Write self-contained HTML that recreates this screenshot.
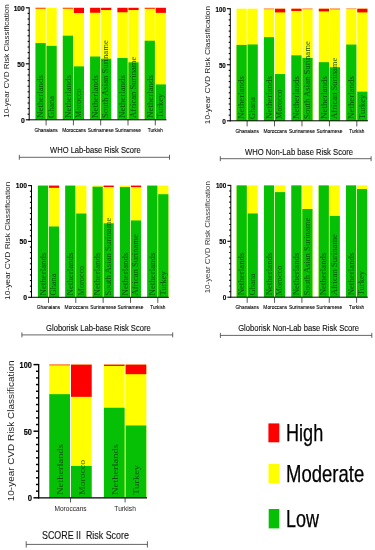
<!DOCTYPE html>
<html><head><meta charset="utf-8"><title>CVD Risk Classification</title>
<style>html,body{margin:0;padding:0;background:#fff}svg{display:block}</style></head>
<body><svg width="375" height="550" viewBox="0 0 375 550">
<defs><filter id="soft" x="0" y="0" width="100%" height="100%" filterUnits="userSpaceOnUse" color-interpolation-filters="sRGB"><feGaussianBlur stdDeviation="0.32"/></filter></defs>
<rect width="375" height="550" fill="#fff"/>
<g filter="url(#soft)">
<rect width="375" height="550" fill="#fff"/>
<rect x="35.50" y="7.80" width="10.20" height="112.00" fill="#ffff00"/>
<rect x="35.50" y="7.80" width="10.20" height="0.78" fill="#ff0000"/>
<rect x="35.50" y="43.08" width="10.20" height="76.72" fill="#05c005"/>
<text transform="translate(43.30,117.90) rotate(-90) scale(1,0.87)" font-family="Liberation Serif, serif" font-size="8.7" textLength="42.80" lengthAdjust="spacingAndGlyphs" fill="#0a460a" fill-opacity="0.92">Netherlands</text>
<rect x="46.50" y="7.80" width="10.20" height="112.00" fill="#ffff00"/>
<rect x="46.50" y="45.88" width="10.20" height="73.92" fill="#05c005"/>
<text transform="translate(53.80,117.90) rotate(-90) scale(1,0.87)" font-family="Liberation Serif, serif" font-size="8.7" textLength="21.90" lengthAdjust="spacingAndGlyphs" fill="#0a460a" fill-opacity="0.92">Ghana</text>
<rect x="62.80" y="7.80" width="10.20" height="112.00" fill="#ffff00"/>
<rect x="62.80" y="7.80" width="10.20" height="0.78" fill="#ff0000"/>
<rect x="62.80" y="35.69" width="10.20" height="84.11" fill="#05c005"/>
<text transform="translate(70.60,117.90) rotate(-90) scale(1,0.87)" font-family="Liberation Serif, serif" font-size="8.7" textLength="42.80" lengthAdjust="spacingAndGlyphs" fill="#0a460a" fill-opacity="0.92">Netherlands</text>
<rect x="73.80" y="7.80" width="10.20" height="112.00" fill="#ffff00"/>
<rect x="73.80" y="7.80" width="10.20" height="5.26" fill="#ff0000"/>
<rect x="73.80" y="66.38" width="10.20" height="53.42" fill="#05c005"/>
<text transform="translate(81.10,117.90) rotate(-90) scale(1,0.87)" font-family="Liberation Serif, serif" font-size="8.7" textLength="29.60" lengthAdjust="spacingAndGlyphs" fill="#0a460a" fill-opacity="0.92">Morocco</text>
<rect x="90.10" y="7.80" width="10.20" height="112.00" fill="#ffff00"/>
<rect x="90.10" y="7.80" width="10.20" height="4.93" fill="#ff0000"/>
<rect x="90.10" y="56.52" width="10.20" height="63.28" fill="#05c005"/>
<text transform="translate(97.90,117.90) rotate(-90) scale(1,0.87)" font-family="Liberation Serif, serif" font-size="8.7" textLength="42.80" lengthAdjust="spacingAndGlyphs" fill="#0a460a" fill-opacity="0.92">Netherlands</text>
<rect x="101.10" y="7.80" width="10.20" height="112.00" fill="#ffff00"/>
<rect x="101.10" y="7.80" width="10.20" height="2.24" fill="#ff0000"/>
<rect x="101.10" y="58.76" width="10.20" height="61.04" fill="#05c005"/>
<text transform="translate(108.40,117.90) rotate(-90) scale(1,0.87)" font-family="Liberation Serif, serif" font-size="8.7" textLength="77.70" lengthAdjust="spacingAndGlyphs" fill="#0a460a" fill-opacity="0.92">South Asian Suriname</text>
<rect x="117.40" y="7.80" width="10.20" height="112.00" fill="#ffff00"/>
<rect x="117.40" y="7.80" width="10.20" height="4.48" fill="#ff0000"/>
<rect x="117.40" y="57.98" width="10.20" height="61.82" fill="#05c005"/>
<text transform="translate(125.20,117.90) rotate(-90) scale(1,0.87)" font-family="Liberation Serif, serif" font-size="8.7" textLength="42.80" lengthAdjust="spacingAndGlyphs" fill="#0a460a" fill-opacity="0.92">Netherlands</text>
<rect x="128.40" y="7.80" width="10.20" height="112.00" fill="#ffff00"/>
<rect x="128.40" y="7.80" width="10.20" height="2.24" fill="#ff0000"/>
<rect x="128.40" y="62.34" width="10.20" height="57.46" fill="#05c005"/>
<text transform="translate(135.70,117.90) rotate(-90) scale(1,0.87)" font-family="Liberation Serif, serif" font-size="8.7" textLength="61.20" lengthAdjust="spacingAndGlyphs" fill="#0a460a" fill-opacity="0.92">African Suriname</text>
<rect x="144.70" y="7.80" width="10.20" height="112.00" fill="#ffff00"/>
<rect x="144.70" y="7.80" width="10.20" height="0.90" fill="#ff0000"/>
<rect x="144.70" y="40.73" width="10.20" height="79.07" fill="#05c005"/>
<text transform="translate(152.50,117.90) rotate(-90) scale(1,0.87)" font-family="Liberation Serif, serif" font-size="8.7" textLength="42.80" lengthAdjust="spacingAndGlyphs" fill="#0a460a" fill-opacity="0.92">Netherlands</text>
<rect x="155.70" y="7.80" width="10.20" height="112.00" fill="#ffff00"/>
<rect x="155.70" y="7.80" width="10.20" height="5.04" fill="#ff0000"/>
<rect x="155.70" y="84.41" width="10.20" height="35.39" fill="#05c005"/>
<text transform="translate(163.00,117.90) rotate(-90) scale(1,0.87)" font-family="Liberation Serif, serif" font-size="8.7" textLength="24.20" lengthAdjust="spacingAndGlyphs" fill="#0a460a" fill-opacity="0.92">Turkey</text>
<line x1="29.2" y1="7.30" x2="29.2" y2="120.30" stroke="#000" stroke-width="1.0"/>
<line x1="28.70" y1="119.8" x2="166.4" y2="119.8" stroke="#000" stroke-width="1.0"/>
<line x1="25.80" y1="119.80" x2="29.2" y2="119.80" stroke="#000" stroke-width="1.12"/>
<line x1="27.60" y1="114.20" x2="29.2" y2="114.20" stroke="#000" stroke-width="1.12"/>
<line x1="27.60" y1="108.60" x2="29.2" y2="108.60" stroke="#000" stroke-width="1.12"/>
<line x1="27.60" y1="103.00" x2="29.2" y2="103.00" stroke="#000" stroke-width="1.12"/>
<line x1="27.60" y1="97.40" x2="29.2" y2="97.40" stroke="#000" stroke-width="1.12"/>
<line x1="27.60" y1="91.80" x2="29.2" y2="91.80" stroke="#000" stroke-width="1.12"/>
<line x1="27.60" y1="86.20" x2="29.2" y2="86.20" stroke="#000" stroke-width="1.12"/>
<line x1="27.60" y1="80.60" x2="29.2" y2="80.60" stroke="#000" stroke-width="1.12"/>
<line x1="27.60" y1="75.00" x2="29.2" y2="75.00" stroke="#000" stroke-width="1.12"/>
<line x1="27.60" y1="69.40" x2="29.2" y2="69.40" stroke="#000" stroke-width="1.12"/>
<line x1="25.80" y1="63.80" x2="29.2" y2="63.80" stroke="#000" stroke-width="1.12"/>
<line x1="27.60" y1="58.20" x2="29.2" y2="58.20" stroke="#000" stroke-width="1.12"/>
<line x1="27.60" y1="52.60" x2="29.2" y2="52.60" stroke="#000" stroke-width="1.12"/>
<line x1="27.60" y1="47.00" x2="29.2" y2="47.00" stroke="#000" stroke-width="1.12"/>
<line x1="27.60" y1="41.40" x2="29.2" y2="41.40" stroke="#000" stroke-width="1.12"/>
<line x1="27.60" y1="35.80" x2="29.2" y2="35.80" stroke="#000" stroke-width="1.12"/>
<line x1="27.60" y1="30.20" x2="29.2" y2="30.20" stroke="#000" stroke-width="1.12"/>
<line x1="27.60" y1="24.60" x2="29.2" y2="24.60" stroke="#000" stroke-width="1.12"/>
<line x1="27.60" y1="19.00" x2="29.2" y2="19.00" stroke="#000" stroke-width="1.12"/>
<line x1="27.60" y1="13.40" x2="29.2" y2="13.40" stroke="#000" stroke-width="1.12"/>
<line x1="25.80" y1="7.80" x2="29.2" y2="7.80" stroke="#000" stroke-width="1.12"/>
<text x="24.70" y="10.68" text-anchor="end" font-family="Liberation Sans, sans-serif" font-weight="bold" stroke="#000" stroke-width="0.15" font-size="8.0" textLength="11" lengthAdjust="spacingAndGlyphs" fill="#000">100</text>
<text x="24.70" y="66.68" text-anchor="end" font-family="Liberation Sans, sans-serif" font-weight="bold" stroke="#000" stroke-width="0.15" font-size="8.0" textLength="7.4" lengthAdjust="spacingAndGlyphs" fill="#000">50</text>
<text x="24.70" y="122.68" text-anchor="end" font-family="Liberation Sans, sans-serif" font-weight="bold" stroke="#000" stroke-width="0.15" font-size="8.0" textLength="3.8" lengthAdjust="spacingAndGlyphs" fill="#000">0</text>
<line x1="46.10" y1="119.8" x2="46.10" y2="125.40" stroke="#111" stroke-width="0.7"/>
<text x="34.40" y="131.6" font-family="Liberation Sans, sans-serif" font-size="5.4" textLength="23.4" lengthAdjust="spacingAndGlyphs" fill="#000" stroke="#000" stroke-width="0.1">Ghanaians</text>
<line x1="73.40" y1="119.8" x2="73.40" y2="125.40" stroke="#111" stroke-width="0.7"/>
<text x="62.20" y="131.6" font-family="Liberation Sans, sans-serif" font-size="5.4" textLength="23.8" lengthAdjust="spacingAndGlyphs" fill="#000" stroke="#000" stroke-width="0.1">Moroccans</text>
<line x1="100.70" y1="119.8" x2="100.70" y2="125.40" stroke="#111" stroke-width="0.7"/>
<text x="87.70" y="131.6" font-family="Liberation Sans, sans-serif" font-size="5.4" textLength="26.0" lengthAdjust="spacingAndGlyphs" fill="#000" stroke="#000" stroke-width="0.1">Surinamese</text>
<line x1="128.00" y1="119.8" x2="128.00" y2="125.40" stroke="#111" stroke-width="0.7"/>
<text x="115.00" y="131.6" font-family="Liberation Sans, sans-serif" font-size="5.4" textLength="26.0" lengthAdjust="spacingAndGlyphs" fill="#000" stroke="#000" stroke-width="0.1">Surinamese</text>
<line x1="155.30" y1="119.8" x2="155.30" y2="125.40" stroke="#111" stroke-width="0.7"/>
<text x="147.70" y="131.6" font-family="Liberation Sans, sans-serif" font-size="5.4" textLength="15.2" lengthAdjust="spacingAndGlyphs" fill="#000" stroke="#000" stroke-width="0.1">Turkish</text>
<text transform="translate(8.7,117.8) rotate(-90)" font-family="Liberation Sans, sans-serif" font-size="7.6" textLength="113.4" lengthAdjust="spacingAndGlyphs" fill="#222">10-year CVD Risk Classification</text>
<text x="50.1" y="153.0" font-family="Liberation Sans, sans-serif" font-size="8.9" textLength="90.6" lengthAdjust="spacingAndGlyphs" fill="#111" stroke="#111" stroke-width="0.12" xml:space="preserve" style="white-space:pre">WHO Lab-base Risk Score</text>
<path d="M19.3 154.8 V159.8 M19.3 157.3 H169.5 M169.5 154.8 V159.8" stroke="#333" stroke-width="0.75" fill="none"/>
<rect x="236.50" y="8.70" width="10.20" height="112.10" fill="#ffff00"/>
<rect x="236.50" y="44.91" width="10.20" height="75.89" fill="#05c005"/>
<text transform="translate(244.30,118.90) rotate(-90) scale(1,0.87)" font-family="Liberation Serif, serif" font-size="8.7" textLength="42.80" lengthAdjust="spacingAndGlyphs" fill="#0a460a" fill-opacity="0.92">Netherlands</text>
<rect x="247.55" y="8.70" width="10.20" height="112.10" fill="#ffff00"/>
<rect x="247.55" y="44.46" width="10.20" height="76.34" fill="#05c005"/>
<text transform="translate(254.85,118.90) rotate(-90) scale(1,0.87)" font-family="Liberation Serif, serif" font-size="8.7" textLength="21.90" lengthAdjust="spacingAndGlyphs" fill="#0a460a" fill-opacity="0.92">Ghana</text>
<rect x="263.90" y="8.70" width="10.20" height="112.10" fill="#ffff00"/>
<rect x="263.90" y="8.70" width="10.20" height="0.45" fill="#ff0000"/>
<rect x="263.90" y="37.17" width="10.20" height="83.63" fill="#05c005"/>
<text transform="translate(271.70,118.90) rotate(-90) scale(1,0.87)" font-family="Liberation Serif, serif" font-size="8.7" textLength="42.80" lengthAdjust="spacingAndGlyphs" fill="#0a460a" fill-opacity="0.92">Netherlands</text>
<rect x="274.95" y="8.70" width="10.20" height="112.10" fill="#ffff00"/>
<rect x="274.95" y="8.70" width="10.20" height="3.70" fill="#ff0000"/>
<rect x="274.95" y="74.05" width="10.20" height="46.75" fill="#05c005"/>
<text transform="translate(282.25,118.90) rotate(-90) scale(1,0.87)" font-family="Liberation Serif, serif" font-size="8.7" textLength="29.60" lengthAdjust="spacingAndGlyphs" fill="#0a460a" fill-opacity="0.92">Morocco</text>
<rect x="291.35" y="8.70" width="10.20" height="112.10" fill="#ffff00"/>
<rect x="291.35" y="8.70" width="10.20" height="2.24" fill="#ff0000"/>
<rect x="291.35" y="55.33" width="10.20" height="65.47" fill="#05c005"/>
<text transform="translate(299.15,118.90) rotate(-90) scale(1,0.87)" font-family="Liberation Serif, serif" font-size="8.7" textLength="42.80" lengthAdjust="spacingAndGlyphs" fill="#0a460a" fill-opacity="0.92">Netherlands</text>
<rect x="302.40" y="8.70" width="10.20" height="112.10" fill="#ffff00"/>
<rect x="302.40" y="8.70" width="10.20" height="0.45" fill="#ff0000"/>
<rect x="302.40" y="57.91" width="10.20" height="62.89" fill="#05c005"/>
<text transform="translate(309.70,118.90) rotate(-90) scale(1,0.87)" font-family="Liberation Serif, serif" font-size="8.7" textLength="77.70" lengthAdjust="spacingAndGlyphs" fill="#0a460a" fill-opacity="0.92">South Asian Suriname</text>
<rect x="318.80" y="8.70" width="10.20" height="112.10" fill="#ffff00"/>
<rect x="318.80" y="8.70" width="10.20" height="2.69" fill="#ff0000"/>
<rect x="318.80" y="62.17" width="10.20" height="58.63" fill="#05c005"/>
<text transform="translate(326.60,118.90) rotate(-90) scale(1,0.87)" font-family="Liberation Serif, serif" font-size="8.7" textLength="42.80" lengthAdjust="spacingAndGlyphs" fill="#0a460a" fill-opacity="0.92">Netherlands</text>
<rect x="329.85" y="8.70" width="10.20" height="112.10" fill="#ffff00"/>
<rect x="329.85" y="8.70" width="10.20" height="0.56" fill="#ff0000"/>
<rect x="329.85" y="67.22" width="10.20" height="53.58" fill="#05c005"/>
<text transform="translate(337.15,118.90) rotate(-90) scale(1,0.87)" font-family="Liberation Serif, serif" font-size="8.7" textLength="61.20" lengthAdjust="spacingAndGlyphs" fill="#0a460a" fill-opacity="0.92">African Suriname</text>
<rect x="346.20" y="8.70" width="10.20" height="112.10" fill="#ffff00"/>
<rect x="346.20" y="8.70" width="10.20" height="0.34" fill="#ff0000"/>
<rect x="346.20" y="44.57" width="10.20" height="76.23" fill="#05c005"/>
<text transform="translate(354.00,118.90) rotate(-90) scale(1,0.87)" font-family="Liberation Serif, serif" font-size="8.7" textLength="42.80" lengthAdjust="spacingAndGlyphs" fill="#0a460a" fill-opacity="0.92">Netherlands</text>
<rect x="357.25" y="8.70" width="10.20" height="112.10" fill="#ffff00"/>
<rect x="357.25" y="8.70" width="10.20" height="3.70" fill="#ff0000"/>
<rect x="357.25" y="91.65" width="10.20" height="29.15" fill="#05c005"/>
<text transform="translate(364.55,118.90) rotate(-90) scale(1,0.87)" font-family="Liberation Serif, serif" font-size="8.7" textLength="24.20" lengthAdjust="spacingAndGlyphs" fill="#0a460a" fill-opacity="0.92">Turkey</text>
<line x1="230.3" y1="8.20" x2="230.3" y2="121.30" stroke="#000" stroke-width="1.0"/>
<line x1="229.80" y1="120.8" x2="367.9" y2="120.8" stroke="#000" stroke-width="1.0"/>
<line x1="226.90" y1="120.80" x2="230.3" y2="120.80" stroke="#000" stroke-width="1.12"/>
<line x1="228.70" y1="115.19" x2="230.3" y2="115.19" stroke="#000" stroke-width="1.12"/>
<line x1="228.70" y1="109.59" x2="230.3" y2="109.59" stroke="#000" stroke-width="1.12"/>
<line x1="228.70" y1="103.98" x2="230.3" y2="103.98" stroke="#000" stroke-width="1.12"/>
<line x1="228.70" y1="98.38" x2="230.3" y2="98.38" stroke="#000" stroke-width="1.12"/>
<line x1="228.70" y1="92.78" x2="230.3" y2="92.78" stroke="#000" stroke-width="1.12"/>
<line x1="228.70" y1="87.17" x2="230.3" y2="87.17" stroke="#000" stroke-width="1.12"/>
<line x1="228.70" y1="81.56" x2="230.3" y2="81.56" stroke="#000" stroke-width="1.12"/>
<line x1="228.70" y1="75.96" x2="230.3" y2="75.96" stroke="#000" stroke-width="1.12"/>
<line x1="228.70" y1="70.35" x2="230.3" y2="70.35" stroke="#000" stroke-width="1.12"/>
<line x1="226.90" y1="64.75" x2="230.3" y2="64.75" stroke="#000" stroke-width="1.12"/>
<line x1="228.70" y1="59.14" x2="230.3" y2="59.14" stroke="#000" stroke-width="1.12"/>
<line x1="228.70" y1="53.54" x2="230.3" y2="53.54" stroke="#000" stroke-width="1.12"/>
<line x1="228.70" y1="47.94" x2="230.3" y2="47.94" stroke="#000" stroke-width="1.12"/>
<line x1="228.70" y1="42.33" x2="230.3" y2="42.33" stroke="#000" stroke-width="1.12"/>
<line x1="228.70" y1="36.72" x2="230.3" y2="36.72" stroke="#000" stroke-width="1.12"/>
<line x1="228.70" y1="31.12" x2="230.3" y2="31.12" stroke="#000" stroke-width="1.12"/>
<line x1="228.70" y1="25.52" x2="230.3" y2="25.52" stroke="#000" stroke-width="1.12"/>
<line x1="228.70" y1="19.91" x2="230.3" y2="19.91" stroke="#000" stroke-width="1.12"/>
<line x1="228.70" y1="14.30" x2="230.3" y2="14.30" stroke="#000" stroke-width="1.12"/>
<line x1="226.90" y1="8.70" x2="230.3" y2="8.70" stroke="#000" stroke-width="1.12"/>
<text x="225.80" y="11.58" text-anchor="end" font-family="Liberation Sans, sans-serif" font-weight="bold" stroke="#000" stroke-width="0.15" font-size="8.0" textLength="10.2" lengthAdjust="spacingAndGlyphs" fill="#000">100</text>
<text x="225.80" y="67.63" text-anchor="end" font-family="Liberation Sans, sans-serif" font-weight="bold" stroke="#000" stroke-width="0.15" font-size="8.0" textLength="6.9" lengthAdjust="spacingAndGlyphs" fill="#000">50</text>
<text x="225.80" y="123.68" text-anchor="end" font-family="Liberation Sans, sans-serif" font-weight="bold" stroke="#000" stroke-width="0.15" font-size="8.0" textLength="3.6" lengthAdjust="spacingAndGlyphs" fill="#000">0</text>
<line x1="247.12" y1="120.8" x2="247.12" y2="126.40" stroke="#111" stroke-width="0.7"/>
<text x="235.43" y="132.6" font-family="Liberation Sans, sans-serif" font-size="5.4" textLength="23.4" lengthAdjust="spacingAndGlyphs" fill="#000" stroke="#000" stroke-width="0.1">Ghanaians</text>
<line x1="274.52" y1="120.8" x2="274.52" y2="126.40" stroke="#111" stroke-width="0.7"/>
<text x="263.43" y="132.6" font-family="Liberation Sans, sans-serif" font-size="5.4" textLength="23.8" lengthAdjust="spacingAndGlyphs" fill="#000" stroke="#000" stroke-width="0.1">Moroccans</text>
<line x1="301.98" y1="120.8" x2="301.98" y2="126.40" stroke="#111" stroke-width="0.7"/>
<text x="288.98" y="132.6" font-family="Liberation Sans, sans-serif" font-size="5.4" textLength="26.0" lengthAdjust="spacingAndGlyphs" fill="#000" stroke="#000" stroke-width="0.1">Surinamese</text>
<line x1="329.43" y1="120.8" x2="329.43" y2="126.40" stroke="#111" stroke-width="0.7"/>
<text x="316.43" y="132.6" font-family="Liberation Sans, sans-serif" font-size="5.4" textLength="26.0" lengthAdjust="spacingAndGlyphs" fill="#000" stroke="#000" stroke-width="0.1">Surinamese</text>
<line x1="356.82" y1="120.8" x2="356.82" y2="126.40" stroke="#111" stroke-width="0.7"/>
<text x="349.22" y="132.6" font-family="Liberation Sans, sans-serif" font-size="5.4" textLength="15.2" lengthAdjust="spacingAndGlyphs" fill="#000" stroke="#000" stroke-width="0.1">Turkish</text>
<text transform="translate(209.7,124.2) rotate(-90)" font-family="Liberation Sans, sans-serif" font-size="7.9" textLength="118.3" lengthAdjust="spacingAndGlyphs" fill="#222">10-year CVD Risk Classification</text>
<text x="244.9" y="154.8" font-family="Liberation Sans, sans-serif" font-size="8.9" textLength="108.2" lengthAdjust="spacingAndGlyphs" fill="#111" stroke="#111" stroke-width="0.12" xml:space="preserve" style="white-space:pre">WHO Non-Lab base Risk Score</text>
<path d="M220.3 156.2 V161.2 M220.3 158.7 H371.1 M371.1 156.2 V161.2" stroke="#333" stroke-width="0.75" fill="none"/>
<rect x="37.90" y="185.60" width="10.20" height="111.70" fill="#ffff00"/>
<rect x="37.90" y="185.60" width="10.20" height="111.70" fill="#05c005"/>
<text transform="translate(45.70,295.40) rotate(-90) scale(1,0.87)" font-family="Liberation Serif, serif" font-size="8.7" textLength="42.80" lengthAdjust="spacingAndGlyphs" fill="#0a460a" fill-opacity="0.92">Netherlands</text>
<rect x="48.90" y="185.60" width="10.20" height="111.70" fill="#ffff00"/>
<rect x="48.90" y="185.60" width="10.20" height="2.23" fill="#ff0000"/>
<rect x="48.90" y="226.48" width="10.20" height="70.82" fill="#05c005"/>
<text transform="translate(56.20,295.40) rotate(-90) scale(1,0.87)" font-family="Liberation Serif, serif" font-size="8.7" textLength="21.90" lengthAdjust="spacingAndGlyphs" fill="#0a460a" fill-opacity="0.92">Ghana</text>
<rect x="65.20" y="185.60" width="10.20" height="111.70" fill="#ffff00"/>
<rect x="65.20" y="185.60" width="10.20" height="111.70" fill="#05c005"/>
<text transform="translate(73.00,295.40) rotate(-90) scale(1,0.87)" font-family="Liberation Serif, serif" font-size="8.7" textLength="42.80" lengthAdjust="spacingAndGlyphs" fill="#0a460a" fill-opacity="0.92">Netherlands</text>
<rect x="76.20" y="185.60" width="10.20" height="111.70" fill="#ffff00"/>
<rect x="76.20" y="213.52" width="10.20" height="83.78" fill="#05c005"/>
<text transform="translate(83.50,295.40) rotate(-90) scale(1,0.87)" font-family="Liberation Serif, serif" font-size="8.7" textLength="29.60" lengthAdjust="spacingAndGlyphs" fill="#0a460a" fill-opacity="0.92">Morocco</text>
<rect x="92.55" y="185.60" width="10.20" height="111.70" fill="#ffff00"/>
<rect x="92.55" y="186.72" width="10.20" height="110.58" fill="#05c005"/>
<text transform="translate(100.35,295.40) rotate(-90) scale(1,0.87)" font-family="Liberation Serif, serif" font-size="8.7" textLength="42.80" lengthAdjust="spacingAndGlyphs" fill="#0a460a" fill-opacity="0.92">Netherlands</text>
<rect x="103.55" y="185.60" width="10.20" height="111.70" fill="#ffff00"/>
<rect x="103.55" y="185.60" width="10.20" height="1.45" fill="#ff0000"/>
<rect x="103.55" y="223.24" width="10.20" height="74.06" fill="#05c005"/>
<text transform="translate(110.85,295.40) rotate(-90) scale(1,0.87)" font-family="Liberation Serif, serif" font-size="8.7" textLength="77.70" lengthAdjust="spacingAndGlyphs" fill="#0a460a" fill-opacity="0.92">South Asian Suriname</text>
<rect x="119.90" y="185.60" width="10.20" height="111.70" fill="#ffff00"/>
<rect x="119.90" y="187.05" width="10.20" height="110.25" fill="#05c005"/>
<text transform="translate(127.70,295.40) rotate(-90) scale(1,0.87)" font-family="Liberation Serif, serif" font-size="8.7" textLength="42.80" lengthAdjust="spacingAndGlyphs" fill="#0a460a" fill-opacity="0.92">Netherlands</text>
<rect x="130.90" y="185.60" width="10.20" height="111.70" fill="#ffff00"/>
<rect x="130.90" y="185.60" width="10.20" height="1.56" fill="#ff0000"/>
<rect x="130.90" y="220.45" width="10.20" height="76.85" fill="#05c005"/>
<text transform="translate(138.20,295.40) rotate(-90) scale(1,0.87)" font-family="Liberation Serif, serif" font-size="8.7" textLength="61.20" lengthAdjust="spacingAndGlyphs" fill="#0a460a" fill-opacity="0.92">African Suriname</text>
<rect x="147.20" y="185.60" width="10.20" height="111.70" fill="#ffff00"/>
<rect x="147.20" y="185.60" width="10.20" height="111.70" fill="#05c005"/>
<text transform="translate(155.00,295.40) rotate(-90) scale(1,0.87)" font-family="Liberation Serif, serif" font-size="8.7" textLength="42.80" lengthAdjust="spacingAndGlyphs" fill="#0a460a" fill-opacity="0.92">Netherlands</text>
<rect x="158.20" y="185.60" width="10.20" height="111.70" fill="#ffff00"/>
<rect x="158.20" y="194.20" width="10.20" height="103.10" fill="#05c005"/>
<text transform="translate(165.50,295.40) rotate(-90) scale(1,0.87)" font-family="Liberation Serif, serif" font-size="8.7" textLength="24.20" lengthAdjust="spacingAndGlyphs" fill="#0a460a" fill-opacity="0.92">Turkey</text>
<line x1="31.5" y1="185.10" x2="31.5" y2="297.80" stroke="#000" stroke-width="1.0"/>
<line x1="31.00" y1="297.3" x2="168.8" y2="297.3" stroke="#000" stroke-width="1.0"/>
<line x1="28.10" y1="297.30" x2="31.5" y2="297.30" stroke="#000" stroke-width="1.12"/>
<line x1="29.90" y1="291.72" x2="31.5" y2="291.72" stroke="#000" stroke-width="1.12"/>
<line x1="29.90" y1="286.13" x2="31.5" y2="286.13" stroke="#000" stroke-width="1.12"/>
<line x1="29.90" y1="280.55" x2="31.5" y2="280.55" stroke="#000" stroke-width="1.12"/>
<line x1="29.90" y1="274.96" x2="31.5" y2="274.96" stroke="#000" stroke-width="1.12"/>
<line x1="29.90" y1="269.38" x2="31.5" y2="269.38" stroke="#000" stroke-width="1.12"/>
<line x1="29.90" y1="263.79" x2="31.5" y2="263.79" stroke="#000" stroke-width="1.12"/>
<line x1="29.90" y1="258.20" x2="31.5" y2="258.20" stroke="#000" stroke-width="1.12"/>
<line x1="29.90" y1="252.62" x2="31.5" y2="252.62" stroke="#000" stroke-width="1.12"/>
<line x1="29.90" y1="247.03" x2="31.5" y2="247.03" stroke="#000" stroke-width="1.12"/>
<line x1="28.10" y1="241.45" x2="31.5" y2="241.45" stroke="#000" stroke-width="1.12"/>
<line x1="29.90" y1="235.87" x2="31.5" y2="235.87" stroke="#000" stroke-width="1.12"/>
<line x1="29.90" y1="230.28" x2="31.5" y2="230.28" stroke="#000" stroke-width="1.12"/>
<line x1="29.90" y1="224.69" x2="31.5" y2="224.69" stroke="#000" stroke-width="1.12"/>
<line x1="29.90" y1="219.11" x2="31.5" y2="219.11" stroke="#000" stroke-width="1.12"/>
<line x1="29.90" y1="213.52" x2="31.5" y2="213.52" stroke="#000" stroke-width="1.12"/>
<line x1="29.90" y1="207.94" x2="31.5" y2="207.94" stroke="#000" stroke-width="1.12"/>
<line x1="29.90" y1="202.35" x2="31.5" y2="202.35" stroke="#000" stroke-width="1.12"/>
<line x1="29.90" y1="196.77" x2="31.5" y2="196.77" stroke="#000" stroke-width="1.12"/>
<line x1="29.90" y1="191.19" x2="31.5" y2="191.19" stroke="#000" stroke-width="1.12"/>
<line x1="28.10" y1="185.60" x2="31.5" y2="185.60" stroke="#000" stroke-width="1.12"/>
<text x="27.00" y="188.48" text-anchor="end" font-family="Liberation Sans, sans-serif" font-weight="bold" stroke="#000" stroke-width="0.15" font-size="8.0" textLength="11.2" lengthAdjust="spacingAndGlyphs" fill="#000">100</text>
<text x="27.00" y="244.33" text-anchor="end" font-family="Liberation Sans, sans-serif" font-weight="bold" stroke="#000" stroke-width="0.15" font-size="8.0" textLength="7.5" lengthAdjust="spacingAndGlyphs" fill="#000">50</text>
<text x="27.00" y="300.18" text-anchor="end" font-family="Liberation Sans, sans-serif" font-weight="bold" stroke="#000" stroke-width="0.15" font-size="8.0" textLength="3.8" lengthAdjust="spacingAndGlyphs" fill="#000">0</text>
<line x1="48.50" y1="297.3" x2="48.50" y2="302.90" stroke="#111" stroke-width="0.7"/>
<text x="36.80" y="308.8" font-family="Liberation Sans, sans-serif" font-size="5.4" textLength="23.4" lengthAdjust="spacingAndGlyphs" fill="#000" stroke="#000" stroke-width="0.1">Ghanaians</text>
<line x1="75.80" y1="297.3" x2="75.80" y2="302.90" stroke="#111" stroke-width="0.7"/>
<text x="64.60" y="308.8" font-family="Liberation Sans, sans-serif" font-size="5.4" textLength="23.8" lengthAdjust="spacingAndGlyphs" fill="#000" stroke="#000" stroke-width="0.1">Moroccans</text>
<line x1="103.15" y1="297.3" x2="103.15" y2="302.90" stroke="#111" stroke-width="0.7"/>
<text x="90.15" y="308.8" font-family="Liberation Sans, sans-serif" font-size="5.4" textLength="26.0" lengthAdjust="spacingAndGlyphs" fill="#000" stroke="#000" stroke-width="0.1">Surinamese</text>
<line x1="130.50" y1="297.3" x2="130.50" y2="302.90" stroke="#111" stroke-width="0.7"/>
<text x="117.50" y="308.8" font-family="Liberation Sans, sans-serif" font-size="5.4" textLength="26.0" lengthAdjust="spacingAndGlyphs" fill="#000" stroke="#000" stroke-width="0.1">Surinamese</text>
<line x1="157.80" y1="297.3" x2="157.80" y2="302.90" stroke="#111" stroke-width="0.7"/>
<text x="150.20" y="308.8" font-family="Liberation Sans, sans-serif" font-size="5.4" textLength="15.2" lengthAdjust="spacingAndGlyphs" fill="#000" stroke="#000" stroke-width="0.1">Turkish</text>
<text transform="translate(10.0,299.9) rotate(-90)" font-family="Liberation Sans, sans-serif" font-size="7.9" textLength="118.3" lengthAdjust="spacingAndGlyphs" fill="#222">10-year CVD Risk Classification</text>
<text x="46.1" y="330.8" font-family="Liberation Sans, sans-serif" font-size="8.9" textLength="104.6" lengthAdjust="spacingAndGlyphs" fill="#111" stroke="#111" stroke-width="0.12" xml:space="preserve" style="white-space:pre">Globorisk Lab-base Risk Score</text>
<path d="M21.9 332.4 V337.4 M21.9 334.9 H172.7 M172.7 332.4 V337.4" stroke="#333" stroke-width="0.75" fill="none"/>
<rect x="236.60" y="185.40" width="10.20" height="111.80" fill="#ffff00"/>
<rect x="236.60" y="185.40" width="10.20" height="111.80" fill="#05c005"/>
<text transform="translate(244.40,295.30) rotate(-90) scale(1,0.87)" font-family="Liberation Serif, serif" font-size="8.7" textLength="42.80" lengthAdjust="spacingAndGlyphs" fill="#0a460a" fill-opacity="0.92">Netherlands</text>
<rect x="247.60" y="185.40" width="10.20" height="111.80" fill="#ffff00"/>
<rect x="247.60" y="213.46" width="10.20" height="83.74" fill="#05c005"/>
<text transform="translate(254.90,295.30) rotate(-90) scale(1,0.87)" font-family="Liberation Serif, serif" font-size="8.7" textLength="21.90" lengthAdjust="spacingAndGlyphs" fill="#0a460a" fill-opacity="0.92">Ghana</text>
<rect x="263.95" y="185.40" width="10.20" height="111.80" fill="#ffff00"/>
<rect x="263.95" y="185.40" width="10.20" height="111.80" fill="#05c005"/>
<text transform="translate(271.75,295.30) rotate(-90) scale(1,0.87)" font-family="Liberation Serif, serif" font-size="8.7" textLength="42.80" lengthAdjust="spacingAndGlyphs" fill="#0a460a" fill-opacity="0.92">Netherlands</text>
<rect x="274.95" y="185.40" width="10.20" height="111.80" fill="#ffff00"/>
<rect x="274.95" y="192.11" width="10.20" height="105.09" fill="#05c005"/>
<text transform="translate(282.25,295.30) rotate(-90) scale(1,0.87)" font-family="Liberation Serif, serif" font-size="8.7" textLength="29.60" lengthAdjust="spacingAndGlyphs" fill="#0a460a" fill-opacity="0.92">Morocco</text>
<rect x="291.30" y="185.40" width="10.20" height="111.80" fill="#ffff00"/>
<rect x="291.30" y="185.40" width="10.20" height="111.80" fill="#05c005"/>
<text transform="translate(299.10,295.30) rotate(-90) scale(1,0.87)" font-family="Liberation Serif, serif" font-size="8.7" textLength="42.80" lengthAdjust="spacingAndGlyphs" fill="#0a460a" fill-opacity="0.92">Netherlands</text>
<rect x="302.30" y="185.40" width="10.20" height="111.80" fill="#ffff00"/>
<rect x="302.30" y="208.99" width="10.20" height="88.21" fill="#05c005"/>
<text transform="translate(309.60,295.30) rotate(-90) scale(1,0.87)" font-family="Liberation Serif, serif" font-size="8.7" textLength="77.70" lengthAdjust="spacingAndGlyphs" fill="#0a460a" fill-opacity="0.92">South Asian Suriname</text>
<rect x="318.65" y="185.40" width="10.20" height="111.80" fill="#ffff00"/>
<rect x="318.65" y="185.40" width="10.20" height="111.80" fill="#05c005"/>
<text transform="translate(326.45,295.30) rotate(-90) scale(1,0.87)" font-family="Liberation Serif, serif" font-size="8.7" textLength="42.80" lengthAdjust="spacingAndGlyphs" fill="#0a460a" fill-opacity="0.92">Netherlands</text>
<rect x="329.65" y="185.40" width="10.20" height="111.80" fill="#ffff00"/>
<rect x="329.65" y="215.92" width="10.20" height="81.28" fill="#05c005"/>
<text transform="translate(336.95,295.30) rotate(-90) scale(1,0.87)" font-family="Liberation Serif, serif" font-size="8.7" textLength="61.20" lengthAdjust="spacingAndGlyphs" fill="#0a460a" fill-opacity="0.92">African Suriname</text>
<rect x="346.00" y="185.40" width="10.20" height="111.80" fill="#ffff00"/>
<rect x="346.00" y="185.40" width="10.20" height="111.80" fill="#05c005"/>
<text transform="translate(353.80,295.30) rotate(-90) scale(1,0.87)" font-family="Liberation Serif, serif" font-size="8.7" textLength="42.80" lengthAdjust="spacingAndGlyphs" fill="#0a460a" fill-opacity="0.92">Netherlands</text>
<rect x="357.00" y="185.40" width="10.20" height="111.80" fill="#ffff00"/>
<rect x="357.00" y="188.98" width="10.20" height="108.22" fill="#05c005"/>
<text transform="translate(364.30,295.30) rotate(-90) scale(1,0.87)" font-family="Liberation Serif, serif" font-size="8.7" textLength="24.20" lengthAdjust="spacingAndGlyphs" fill="#0a460a" fill-opacity="0.92">Turkey</text>
<line x1="230.8" y1="184.90" x2="230.8" y2="297.70" stroke="#000" stroke-width="1.0"/>
<line x1="230.30" y1="297.2" x2="367.8" y2="297.2" stroke="#000" stroke-width="1.0"/>
<line x1="227.40" y1="297.20" x2="230.8" y2="297.20" stroke="#000" stroke-width="1.12"/>
<line x1="229.20" y1="291.61" x2="230.8" y2="291.61" stroke="#000" stroke-width="1.12"/>
<line x1="229.20" y1="286.02" x2="230.8" y2="286.02" stroke="#000" stroke-width="1.12"/>
<line x1="229.20" y1="280.43" x2="230.8" y2="280.43" stroke="#000" stroke-width="1.12"/>
<line x1="229.20" y1="274.84" x2="230.8" y2="274.84" stroke="#000" stroke-width="1.12"/>
<line x1="229.20" y1="269.25" x2="230.8" y2="269.25" stroke="#000" stroke-width="1.12"/>
<line x1="229.20" y1="263.66" x2="230.8" y2="263.66" stroke="#000" stroke-width="1.12"/>
<line x1="229.20" y1="258.07" x2="230.8" y2="258.07" stroke="#000" stroke-width="1.12"/>
<line x1="229.20" y1="252.48" x2="230.8" y2="252.48" stroke="#000" stroke-width="1.12"/>
<line x1="229.20" y1="246.89" x2="230.8" y2="246.89" stroke="#000" stroke-width="1.12"/>
<line x1="227.40" y1="241.30" x2="230.8" y2="241.30" stroke="#000" stroke-width="1.12"/>
<line x1="229.20" y1="235.71" x2="230.8" y2="235.71" stroke="#000" stroke-width="1.12"/>
<line x1="229.20" y1="230.12" x2="230.8" y2="230.12" stroke="#000" stroke-width="1.12"/>
<line x1="229.20" y1="224.53" x2="230.8" y2="224.53" stroke="#000" stroke-width="1.12"/>
<line x1="229.20" y1="218.94" x2="230.8" y2="218.94" stroke="#000" stroke-width="1.12"/>
<line x1="229.20" y1="213.35" x2="230.8" y2="213.35" stroke="#000" stroke-width="1.12"/>
<line x1="229.20" y1="207.76" x2="230.8" y2="207.76" stroke="#000" stroke-width="1.12"/>
<line x1="229.20" y1="202.17" x2="230.8" y2="202.17" stroke="#000" stroke-width="1.12"/>
<line x1="229.20" y1="196.58" x2="230.8" y2="196.58" stroke="#000" stroke-width="1.12"/>
<line x1="229.20" y1="190.99" x2="230.8" y2="190.99" stroke="#000" stroke-width="1.12"/>
<line x1="227.40" y1="185.40" x2="230.8" y2="185.40" stroke="#000" stroke-width="1.12"/>
<text x="226.30" y="188.28" text-anchor="end" font-family="Liberation Sans, sans-serif" font-weight="bold" stroke="#000" stroke-width="0.15" font-size="8.0" textLength="10.4" lengthAdjust="spacingAndGlyphs" fill="#000">100</text>
<text x="226.30" y="244.18" text-anchor="end" font-family="Liberation Sans, sans-serif" font-weight="bold" stroke="#000" stroke-width="0.15" font-size="8.0" textLength="7" lengthAdjust="spacingAndGlyphs" fill="#000">50</text>
<text x="226.30" y="300.08" text-anchor="end" font-family="Liberation Sans, sans-serif" font-weight="bold" stroke="#000" stroke-width="0.15" font-size="8.0" textLength="3.6" lengthAdjust="spacingAndGlyphs" fill="#000">0</text>
<line x1="247.20" y1="297.2" x2="247.20" y2="302.80" stroke="#111" stroke-width="0.7"/>
<text x="235.50" y="308.8" font-family="Liberation Sans, sans-serif" font-size="5.4" textLength="23.4" lengthAdjust="spacingAndGlyphs" fill="#000" stroke="#000" stroke-width="0.1">Ghanaians</text>
<line x1="274.55" y1="297.2" x2="274.55" y2="302.80" stroke="#111" stroke-width="0.7"/>
<text x="263.35" y="308.8" font-family="Liberation Sans, sans-serif" font-size="5.4" textLength="23.8" lengthAdjust="spacingAndGlyphs" fill="#000" stroke="#000" stroke-width="0.1">Moroccans</text>
<line x1="301.90" y1="297.2" x2="301.90" y2="302.80" stroke="#111" stroke-width="0.7"/>
<text x="288.90" y="308.8" font-family="Liberation Sans, sans-serif" font-size="5.4" textLength="26.0" lengthAdjust="spacingAndGlyphs" fill="#000" stroke="#000" stroke-width="0.1">Surinamese</text>
<line x1="329.25" y1="297.2" x2="329.25" y2="302.80" stroke="#111" stroke-width="0.7"/>
<text x="316.25" y="308.8" font-family="Liberation Sans, sans-serif" font-size="5.4" textLength="26.0" lengthAdjust="spacingAndGlyphs" fill="#000" stroke="#000" stroke-width="0.1">Surinamese</text>
<line x1="356.60" y1="297.2" x2="356.60" y2="302.80" stroke="#111" stroke-width="0.7"/>
<text x="349.00" y="308.8" font-family="Liberation Sans, sans-serif" font-size="5.4" textLength="15.2" lengthAdjust="spacingAndGlyphs" fill="#000" stroke="#000" stroke-width="0.1">Turkish</text>
<text transform="translate(210.3,293.3) rotate(-90)" font-family="Liberation Sans, sans-serif" font-size="7.6" textLength="112.2" lengthAdjust="spacingAndGlyphs" fill="#3a3a3a">10-year CVD Risk Classification</text>
<text x="238.2" y="330.9" font-family="Liberation Sans, sans-serif" font-size="8.9" textLength="120.9" lengthAdjust="spacingAndGlyphs" fill="#111" stroke="#111" stroke-width="0.12" xml:space="preserve" style="white-space:pre">Globorisk Non-Lab base Risk Score</text>
<path d="M220.4 332.9 V337.9 M220.4 335.4 H371.8 M371.8 332.9 V337.9" stroke="#333" stroke-width="0.75" fill="none"/>
<rect x="49.30" y="364.60" width="20.70" height="133.20" fill="#ffff00"/>
<rect x="49.30" y="364.60" width="20.70" height="0.67" fill="#ff0000"/>
<rect x="49.30" y="394.17" width="20.70" height="103.63" fill="#05c005"/>
<text transform="translate(63.40,495.00) rotate(-90) scale(1,0.9)" font-family="Liberation Serif, serif" font-size="10.3" textLength="50.72" lengthAdjust="spacingAndGlyphs" fill="#0a460a" fill-opacity="0.92">Netherlands</text>
<rect x="71.00" y="364.60" width="20.70" height="133.20" fill="#ffff00"/>
<rect x="71.00" y="364.60" width="20.70" height="32.23" fill="#ff0000"/>
<rect x="71.00" y="465.97" width="20.70" height="31.83" fill="#05c005"/>
<text transform="translate(84.50,495.00) rotate(-90) scale(1,0.9)" font-family="Liberation Serif, serif" font-size="10.3" textLength="35.22" lengthAdjust="spacingAndGlyphs" fill="#0a460a" fill-opacity="0.92">Morocco</text>
<rect x="103.90" y="364.60" width="20.70" height="133.20" fill="#ffff00"/>
<rect x="103.90" y="364.60" width="20.70" height="1.33" fill="#ff0000"/>
<rect x="103.90" y="407.76" width="20.70" height="90.04" fill="#05c005"/>
<text transform="translate(118.00,495.00) rotate(-90) scale(1,0.9)" font-family="Liberation Serif, serif" font-size="10.3" textLength="50.72" lengthAdjust="spacingAndGlyphs" fill="#0a460a" fill-opacity="0.92">Netherlands</text>
<rect x="125.60" y="364.60" width="20.70" height="133.20" fill="#ffff00"/>
<rect x="125.60" y="364.60" width="20.70" height="9.59" fill="#ff0000"/>
<rect x="125.60" y="425.47" width="20.70" height="72.33" fill="#05c005"/>
<text transform="translate(139.10,495.00) rotate(-90) scale(1,0.9)" font-family="Liberation Serif, serif" font-size="10.3" textLength="30.13" lengthAdjust="spacingAndGlyphs" fill="#0a460a" fill-opacity="0.92">Turkey</text>
<line x1="38.7" y1="363.95" x2="38.7" y2="498.45" stroke="#000" stroke-width="1.3"/>
<line x1="38.05" y1="497.8" x2="147" y2="497.8" stroke="#000" stroke-width="1.3"/>
<line x1="33.50" y1="497.80" x2="38.7" y2="497.80" stroke="#000" stroke-width="1.46"/>
<line x1="36.00" y1="491.14" x2="38.7" y2="491.14" stroke="#000" stroke-width="1.46"/>
<line x1="36.00" y1="484.48" x2="38.7" y2="484.48" stroke="#000" stroke-width="1.46"/>
<line x1="36.00" y1="477.82" x2="38.7" y2="477.82" stroke="#000" stroke-width="1.46"/>
<line x1="36.00" y1="471.16" x2="38.7" y2="471.16" stroke="#000" stroke-width="1.46"/>
<line x1="36.00" y1="464.50" x2="38.7" y2="464.50" stroke="#000" stroke-width="1.46"/>
<line x1="36.00" y1="457.84" x2="38.7" y2="457.84" stroke="#000" stroke-width="1.46"/>
<line x1="36.00" y1="451.18" x2="38.7" y2="451.18" stroke="#000" stroke-width="1.46"/>
<line x1="36.00" y1="444.52" x2="38.7" y2="444.52" stroke="#000" stroke-width="1.46"/>
<line x1="36.00" y1="437.86" x2="38.7" y2="437.86" stroke="#000" stroke-width="1.46"/>
<line x1="33.50" y1="431.20" x2="38.7" y2="431.20" stroke="#000" stroke-width="1.46"/>
<line x1="36.00" y1="424.54" x2="38.7" y2="424.54" stroke="#000" stroke-width="1.46"/>
<line x1="36.00" y1="417.88" x2="38.7" y2="417.88" stroke="#000" stroke-width="1.46"/>
<line x1="36.00" y1="411.22" x2="38.7" y2="411.22" stroke="#000" stroke-width="1.46"/>
<line x1="36.00" y1="404.56" x2="38.7" y2="404.56" stroke="#000" stroke-width="1.46"/>
<line x1="36.00" y1="397.90" x2="38.7" y2="397.90" stroke="#000" stroke-width="1.46"/>
<line x1="36.00" y1="391.24" x2="38.7" y2="391.24" stroke="#000" stroke-width="1.46"/>
<line x1="36.00" y1="384.58" x2="38.7" y2="384.58" stroke="#000" stroke-width="1.46"/>
<line x1="36.00" y1="377.92" x2="38.7" y2="377.92" stroke="#000" stroke-width="1.46"/>
<line x1="36.00" y1="371.26" x2="38.7" y2="371.26" stroke="#000" stroke-width="1.46"/>
<line x1="33.50" y1="364.60" x2="38.7" y2="364.60" stroke="#000" stroke-width="1.46"/>
<text x="32.00" y="367.98" text-anchor="end" font-family="Liberation Sans, sans-serif" font-weight="bold" stroke="#000" stroke-width="0.15" font-size="9.4" textLength="12.4" lengthAdjust="spacingAndGlyphs" fill="#000">100</text>
<text x="32.00" y="434.58" text-anchor="end" font-family="Liberation Sans, sans-serif" font-weight="bold" stroke="#000" stroke-width="0.15" font-size="9.4" textLength="8.3" lengthAdjust="spacingAndGlyphs" fill="#000">50</text>
<text x="32.00" y="501.18" text-anchor="end" font-family="Liberation Sans, sans-serif" font-weight="bold" stroke="#000" stroke-width="0.15" font-size="9.4" textLength="4.3" lengthAdjust="spacingAndGlyphs" fill="#000">0</text>
<line x1="70.50" y1="497.8" x2="70.50" y2="502.40" stroke="#111" stroke-width="0.7"/>
<text x="54.40" y="510.8" font-family="Liberation Sans, sans-serif" font-size="7.8" textLength="32.2" lengthAdjust="spacingAndGlyphs" fill="#222" stroke="#222" stroke-width="0">Moroccans</text>
<line x1="125.10" y1="497.8" x2="125.10" y2="502.40" stroke="#111" stroke-width="0.7"/>
<text x="114.35" y="510.8" font-family="Liberation Sans, sans-serif" font-size="7.8" textLength="21.5" lengthAdjust="spacingAndGlyphs" fill="#222" stroke="#222" stroke-width="0">Turkish</text>
<text transform="translate(13.5,501.2) rotate(-90)" font-family="Liberation Sans, sans-serif" font-size="8.8" textLength="140.8" lengthAdjust="spacingAndGlyphs" fill="#222">10-year CVD Risk Classification</text>
<text x="42.0" y="539.4" font-family="Liberation Sans, sans-serif" font-size="11.1" textLength="86.9" lengthAdjust="spacingAndGlyphs" fill="#111" stroke="#111" stroke-width="0.12" xml:space="preserve" style="white-space:pre">SCORE II  Risk Score</text>
<path d="M26.2 541.1999999999999 V547.6 M26.2 544.4 H147.4 M147.4 541.1999999999999 V547.6" stroke="#333" stroke-width="0.75" fill="none"/>
<rect x="268.4" y="423.4" width="10.9" height="18.9" fill="#ff0000"/>
<rect x="268.5" y="464.0" width="10.8" height="19.4" fill="#ffff00"/>
<rect x="268.7" y="509.0" width="10.6" height="19.4" fill="#05c005"/>
<text x="286.0" y="441.2" font-family="Liberation Sans, sans-serif" font-size="23.2" textLength="37.2" lengthAdjust="spacingAndGlyphs" fill="#000" stroke="#000" stroke-width="0.25">High</text>
<text x="286.0" y="482.2" font-family="Liberation Sans, sans-serif" font-size="23.2" textLength="78.2" lengthAdjust="spacingAndGlyphs" fill="#000" stroke="#000" stroke-width="0.25">Moderate</text>
<text x="286.0" y="526.8" font-family="Liberation Sans, sans-serif" font-size="23.2" textLength="33" lengthAdjust="spacingAndGlyphs" fill="#000" stroke="#000" stroke-width="0.25">Low</text>
</g>
</svg></body></html>
